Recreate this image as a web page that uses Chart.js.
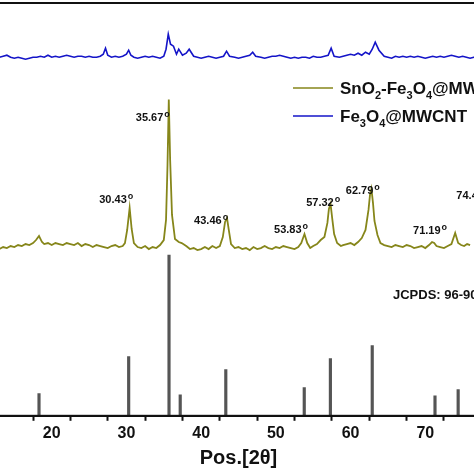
<!DOCTYPE html>
<html><head><meta charset="utf-8">
<script src="https://cdn.jsdelivr.net/npm/chart.js@4"></script>
<style>html,body{margin:0;padding:0;overflow:hidden;background:#fff;width:474px;height:474px}
#wrap{position:absolute;left:-60px;top:0;width:600px;height:474px}</style>
</head><body><div id="wrap"><canvas id="c"></canvas></div>
<script>
// SnO2-Fe3O4@MWCNT pattern (2θ, intensity a.u.)
const greenX=[13,13.5,14,14.5,15,15.5,16,16.5,17,17.5,17.9,18.3,18.7,19,19.5,20,20.5,21,21.5,22,22.5,23,23.5,24,24.5,25,25.5,26,26.5,27,27.5,28,28.5,29,29.5,29.8,30.1,30.43,30.7,31,31.5,32,32.5,33,33.5,34,34.5,35,35.3,35.5,35.67,35.85,36.1,36.5,37,37.4,38,38.5,39,39.5,40,40.5,41,41.5,42,42.5,42.9,43.2,43.46,43.7,44,44.5,45,45.5,46,46.5,47,47.5,48,48.5,49,49.5,50,50.5,51,51.5,52,52.5,53,53.4,53.83,54.2,54.6,55,55.5,56,56.5,56.9,57.1,57.32,57.55,57.8,58.2,58.7,59,59.5,60,60.5,61,61.5,62,62.4,62.6,62.79,63,63.2,63.6,64,64.5,65,65.5,66,66.5,67,67.5,68,68.5,69,69.5,70,70.5,70.9,71.19,71.5,72,72.5,73,73.5,74,74.4,74.8,75.2,75.6,76,76.5,77];
const greenY=[166,168,167,169,168,170,169,171,170,172,175,179,173,171,172,170,172,171,170,172,171,170,172,169,171,170,168,170,169,168,167,169,170,168,169,172,185,207,186,172,168,167,169,166,168,167,170,175,195,250,315,255,200,176,173,172,169,166,167,165,166,168,166,169,167,169,178,193,197,185,171,167,168,166,167,165,168,166,167,169,167,166,168,167,169,168,167,166,168,172,181,172,167,169,171,175,178,192,206,211,196,181,172,169,170,171,172,170,173,177,185,205,220,226,212,194,180,172,170,169,168,170,169,168,170,169,167,168,169,167,170,173,172,169,168,167,169,171,182,172,170,169,171,170];
// Fe3O4@MWCNT pattern
const blueX=[13,13.5,14,14.5,15,15.5,16,16.5,17,17.5,18,18.5,19,19.5,20,20.5,21,21.5,22,22.5,23,23.5,24,24.5,25,25.5,26,26.5,26.9,27.2,27.5,28,28.5,29,29.5,30,30.3,30.6,31,31.5,32,32.5,33,33.5,34,34.5,35,35.3,35.6,35.9,36.3,36.7,37,37.5,38,38.4,39,39.5,40,40.5,41,41.5,42,42.5,43,43.4,43.8,44.5,45,45.5,46,46.5,46.9,47.3,48,48.5,49,49.5,50,50.5,51,51.5,52,52.5,53,53.5,54,54.5,55,55.5,56,56.5,57,57.4,57.8,58.5,59,59.5,60,60.5,61,61.5,62,62.5,62.9,63.3,63.8,64.5,65,65.5,66,66.5,67,67.5,68,68.5,69,69.5,70,70.5,71,71.5,72,72.5,73,73.5,74,74.5,75,75.5,76,76.5,77];
const blueY=[357,358,359,357,356,357,356,355,356,357,357,358,357,359,357,358,357,358,359,358,357,358,358,357,358,357,357,358,360,366,359,357,358,357,358,360,364,359,357,356,357,358,357,358,357,356,358,365,380,370,368,360,365,359,361,365,358,357,356,357,358,357,356,357,358,363,358,357,356,357,358,359,362,358,357,356,357,358,358,359,358,357,356,357,356,357,357,356,358,357,357,358,359,366,358,357,358,359,360,359,361,359,362,360,365,372,364,358,357,356,358,357,358,357,358,357,358,357,356,357,358,357,358,357,358,359,358,357,358,357,356,357,358];
// JCPDS reference lines
const refX=[18.3,30.3,35.7,37.2,43.3,53.8,57.3,62.9,71.3,74.4];
const refY=[22,59,160,21,46,28,57,70,20,26];
const peakLabels=["30.43","35.67","43.46","53.83","57.32","62.79","71.19","74.41"];
const peakLabelX=[28.2,33.1,40.9,51.6,55.9,61.2,70.2,76.0];
const peakLabelY=[212,294,191,182,209,221,181,216];
const xTicks=[20,30,40,50,60,70];
const seriesNames=[["SnO","2","-Fe","3","O","4","@MWCNT"],["Fe","3","O","4","@MWCNT"]];
const seriesColors=["#86861a","#1414c8"];
const xTitle="Pos.[2θ]";
const refLabel="JCPDS: 96-900-2327";

const FF='"Liberation Sans", Arial, sans-serif';
function drawRich(ctx,parts,x,y,big,small){
  let cx=x;
  parts.forEach((p,i)=>{const sub=i%2===1;ctx.font='bold '+(sub?small:big)+'px '+FF;ctx.fillText(p,cx,y+(sub?big*0.3:0));cx+=ctx.measureText(p).width;});
}
const deco={id:'deco',afterDraw(ch){
  const ctx=ch.ctx,a=ch.chartArea,xs=ch.scales.x,ys=ch.scales.y;
  ctx.save();
  ctx.strokeStyle='#111';ctx.lineWidth=2;ctx.strokeRect(a.left,a.top,a.right-a.left,a.bottom-a.top);
  ctx.fillStyle='#111';ctx.textBaseline='alphabetic';
  peakLabels.forEach((t,i)=>{
    ctx.font='bold 11px '+FF;ctx.textAlign='left';
    const w=ctx.measureText(t).width;const px=xs.getPixelForValue(peakLabelX[i])-w/2,py=ys.getPixelForValue(peakLabelY[i]);
    ctx.fillText(t,px,py);ctx.font='bold 9px '+FF;ctx.fillText('o',px+w+1,py-4);
  });
  ctx.font='bold 13px '+FF;ctx.fillText(refLabel,453,299);
  seriesNames.forEach((parts,i)=>{
    const y=88+28*i;
    ctx.strokeStyle=seriesColors[i];ctx.lineWidth=1.5;ctx.beginPath();ctx.moveTo(353,y);ctx.lineTo(393,y);ctx.stroke();
    ctx.fillStyle='#111';drawRich(ctx,parts,400,y+6,17,11);
  });
  ctx.restore();
}};
new Chart(document.getElementById('c'),{
  data:{datasets:[
    {type:'line',data:greenX.map((x,i)=>({x,y:greenY[i]})),borderColor:seriesColors[0],borderWidth:1.8,pointRadius:0,tension:0},
    {type:'line',data:blueX.map((x,i)=>({x,y:blueY[i]})),borderColor:seriesColors[1],borderWidth:1.6,pointRadius:0,tension:0},
    {type:'bar',data:refX.map((x,i)=>({x,y:refY[i]})),backgroundColor:'#555',barThickness:2.5}
  ]},
  options:{responsive:true,maintainAspectRatio:false,animation:false,
    layout:{padding:{left:37,right:40,top:3,bottom:0}},
    plugins:{legend:{display:false},tooltip:{enabled:false}},
    scales:{
      x:{type:'linear',min:10,max:80,offset:false,
        ticks:{stepSize:5,autoSkip:false,color:'#111',font:{family:FF,weight:'bold',size:16},callback:v=>xTicks.includes(v)?String(v):''},
        grid:{drawOnChartArea:false,tickLength:5,color:'#111',tickWidth:2},
        border:{color:'#111',width:2},
        title:{display:true,text:xTitle,color:'#111',font:{family:FF,weight:'bold',size:20},padding:{top:0,bottom:4}}},
      y:{display:false,min:0,max:411}
    }},
  plugins:[deco]
});
</script></body></html>
